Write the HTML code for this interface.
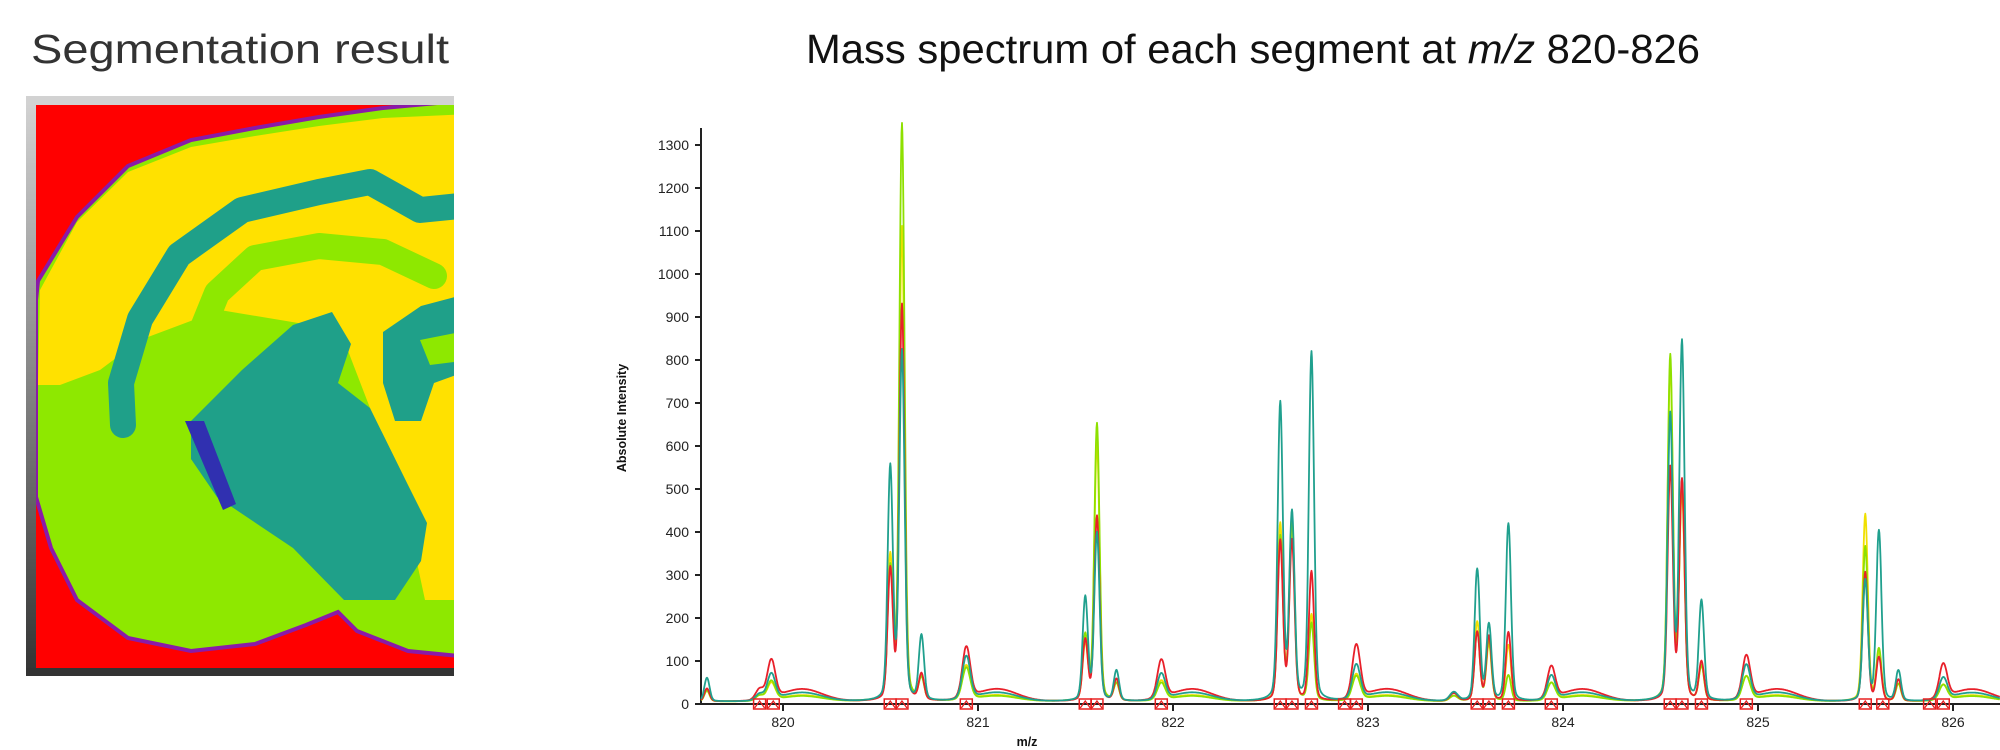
<!DOCTYPE html>
<html><head><meta charset="utf-8"><style>
html,body{margin:0;padding:0;background:#fff;}
svg{display:block;}
text{font-family:"Liberation Sans",sans-serif;}
</style></head><body>
<svg id="s" width="2000" height="750" viewBox="0 0 2000 750" xmlns="http://www.w3.org/2000/svg">
<defs>
<linearGradient id="lg" x1="0" y1="0" x2="0" y2="1"><stop offset="0" stop-color="#d4d4d4"/><stop offset="1" stop-color="#333"/></linearGradient>
<clipPath id="cp"><rect x="36" y="105" width="418" height="563"/></clipPath>
</defs>
<text x="31" y="63" font-size="41" fill="#333" textLength="418" lengthAdjust="spacingAndGlyphs">Segmentation result</text>
<text x="806" y="63" font-size="41" fill="#111" textLength="894" lengthAdjust="spacingAndGlyphs">Mass spectrum of each segment at <tspan font-style="italic">m/z</tspan> 820-826</text>
<rect x="26" y="96" width="428" height="580" fill="url(#lg)"/>
<rect x="26" y="96" width="428" height="9" fill="#d2d2d2"/>
<rect x="26" y="668" width="428" height="8" fill="#333"/>
<g clip-path="url(#cp)">
<rect x="36" y="105" width="418" height="563" fill="#ff0000"/>
<polygon points="420,105 460,105 460,125 400,125" fill="#ff9900"/>
<polygon fill="#8ee800" stroke="#8a1aa8" stroke-width="4" points="36,300 38,281 77,217 128,166 191,140 255,128 319,117 383,108 470,100 470,657 408,651 357,631 338,612 306,625 255,644 191,651 128,638 77,600 51,548 36,497"/>
<polygon fill="#ffe100" points="40,290 77,222 128,172 191,147 255,136 319,126 383,118 470,114 470,600 425,600 410,530 390,460 340,330 220,310 140,340 100,370 60,385 38,385"/>
<polyline fill="none" stroke="#1fa089" stroke-width="26" stroke-linejoin="round" stroke-linecap="round" points="123,425 121,383 140,319 179,255 242,210 319,192 370,182 420,210 470,205"/>
<polyline fill="none" stroke="#8ee800" stroke-width="26" stroke-linejoin="round" stroke-linecap="round" points="191,357 217,293 255,258 319,246 383,252 434,276"/>
<polygon fill="#1fa089" points="191,421 242,370 293,325 332,312 351,344 338,383 370,408 408,485 427,523 421,561 395,600 344,600 293,548 217,497 191,459"/>
<polygon fill="#1fa089" points="383,332 421,306 470,293 470,370 434,383 421,421 395,421 383,383"/>
<polygon fill="#8ee800" points="420,340 470,330 470,360 430,365"/>
<polygon fill="#3030b0" points="185,421 204,421 236,504 223,510"/>
</g>
<g stroke="#222" stroke-width="2" fill="none">
<line x1="701" y1="128" x2="701" y2="705"/>
<line x1="700" y1="704" x2="2000" y2="704"/>
</g>
<g id="ticks"></g>
<g id="series"></g>
<g id="marks"></g>
<text transform="translate(626,418) rotate(-90)" text-anchor="middle" font-size="12.5" font-weight="bold" fill="#111">Absolute Intensity</text>
<text x="1027" y="746" text-anchor="middle" font-size="12.5" font-weight="bold" fill="#111">m/z</text>
</svg>
<script>
var NS="http://www.w3.org/2000/svg";
function el(t,a,p){var e=document.createElementNS(NS,t);for(var k in a)e.setAttribute(k,a[k]);p.appendChild(e);return e;}
var X0=783,PX=195,Y0=704,PY=0.43;
function X(m){return X0+(m-820)*PX;}function Y(v){return Y0-v*PY;}
var tk=document.getElementById('ticks');
for(var v=0;v<=1300;v+=100){el('line',{x1:695,x2:701,y1:Y(v),y2:Y(v),stroke:'#222','stroke-width':2},tk);
var t=el('text',{x:689,y:Y(v)+5,'text-anchor':'end','font-size':14,fill:'#222'},tk);t.textContent=v;}
for(var m=820;m<=826;m++){el('line',{x1:X(m),x2:X(m),y1:704,y2:711,stroke:'#222','stroke-width':2},tk);
var t=el('text',{x:X(m),y:727,'text-anchor':'middle','font-size':14,fill:'#222'},tk);t.textContent=m;}
var P=[[819.61,55,25,25,30],[819.88,15,12,12,25],[819.94,60,45,40,90],
[820.55,540,300,330,300],[820.61,810,1340,1100,920],[820.71,150,50,55,60],[820.94,100,75,80,120],
[821.55,240,150,130,140],[821.61,390,645,600,430],[821.71,70,40,40,50],[821.94,60,40,45,90],
[822.55,690,380,410,370],[822.61,430,420,390,370],[822.71,810,180,200,300],[822.94,80,56,60,125],
[823.44,20,12,12,18],[823.56,305,160,184,160],[823.62,175,140,130,150],[823.72,412,60,130,160],[823.94,55,40,40,75],
[824.55,660,800,780,540],[824.61,830,500,480,510],[824.71,230,80,80,90],[824.94,80,55,55,100],
[825.55,280,360,435,300],[825.62,395,120,110,100],[825.72,70,40,40,50],[825.95,50,35,35,80]];
var tails=[20,12,14,28];
var cols=['#20a08e','#8ee000','#f0e000','#e8202a'];
var order=[2,1,3,0];
var sg=document.getElementById('series');
order.forEach(function(s){
 var pts=[];
 for(var m=819.58;m<=826.25;m+=0.0025){
  var v=6;
  for(var i=0;i<P.length;i++){var d=(m-P[i][0]);var h=P[i][s+1];
   var frac=P[i][0]-Math.floor(P[i][0]);var sig=(frac>0.85||frac<0.5)?0.02:0.013;
   v+=h*(0.85*Math.exp(-d*d/(2*sig*sig))+0.15/(1+(d/(sig*1.6))*(d/(sig*1.6))));}
  for(var g=819;g<=826;g++){var d=m-(g+1.1);v+=tails[s]*Math.exp(-d*d/(2*0.1*0.1));}
  var x=X(m);if(x<701)continue;if(x>2000)break;
  pts.push(x.toFixed(1)+','+Y(v).toFixed(1));
 }
 el('polyline',{points:pts.join(' '),fill:'none',stroke:cols[s],'stroke-width':1.8,'stroke-linejoin':'round'},sg);
});
var mk=document.getElementById('marks');
var M=[819.88,819.95,820.55,820.61,820.94,821.55,821.61,821.94,822.55,822.61,822.71,822.88,822.94,823.56,823.62,823.72,823.94,824.55,824.61,824.71,824.94,825.55,825.64,825.88,825.95];
M.forEach(function(m){var x=X(m);
 el('rect',{x:x-6,y:699,width:12,height:10,fill:'none',stroke:'#e82020','stroke-width':1.5},mk);
 el('polyline',{points:(x-5)+',708 '+x+',701 '+(x+5)+',708',fill:'none',stroke:'#e82020','stroke-width':1.3},mk);
});
</script>
</body></html>
